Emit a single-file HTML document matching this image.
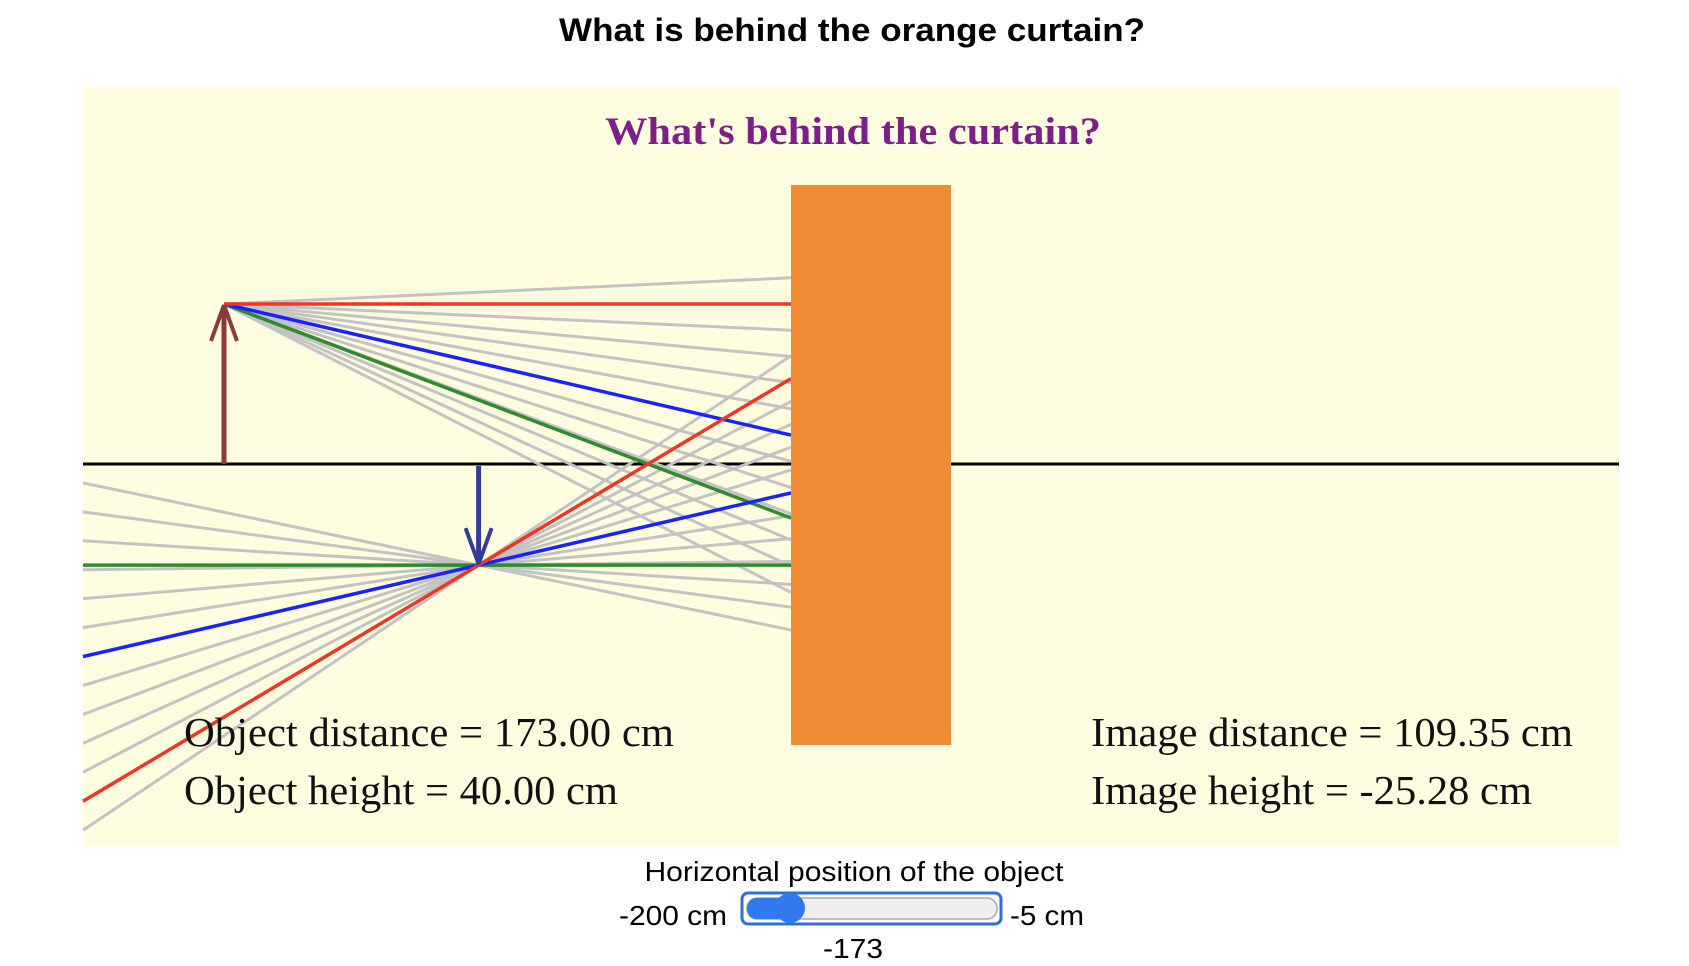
<!DOCTYPE html>
<html><head><meta charset="utf-8"><style>
html,body{margin:0;padding:0;background:#fff;width:1689px;height:966px;overflow:hidden}
svg{display:block}
</style></head><body>
<svg id="c" width="1689" height="966" viewBox="0 0 1689 966">
<text x="852" y="41" text-anchor="middle" font-family="Liberation Sans, sans-serif" font-weight="bold" font-size="32" textLength="586" lengthAdjust="spacingAndGlyphs" fill="#000">What is behind the orange curtain?</text>
<rect x="83" y="86" width="1536" height="760" fill="#fffde0"/>
<g id="rays"></g>
<text x="853" y="144" text-anchor="middle" font-family="Liberation Serif, serif" font-weight="bold" font-size="39" textLength="496" lengthAdjust="spacingAndGlyphs" fill="#7d1f86">What's behind the curtain?</text>
<rect x="791" y="185" width="160" height="560" fill="#f08c35"/>
<text id="od" x="184" y="746" font-family="Liberation Serif, serif" font-size="41" textLength="490" lengthAdjust="spacingAndGlyphs" fill="#111"></text>
<text id="oh" x="184" y="804" font-family="Liberation Serif, serif" font-size="41" textLength="434" lengthAdjust="spacingAndGlyphs" fill="#111"></text>
<text id="id" x="1091" y="746" font-family="Liberation Serif, serif" font-size="41" textLength="482" lengthAdjust="spacingAndGlyphs" fill="#111"></text>
<text id="ih" x="1091" y="804" font-family="Liberation Serif, serif" font-size="41" textLength="441" lengthAdjust="spacingAndGlyphs" fill="#111"></text>
<text x="854" y="881" text-anchor="middle" font-family="Liberation Sans, sans-serif" font-size="28" textLength="419" lengthAdjust="spacingAndGlyphs" fill="#000">Horizontal position of the object</text>
<text x="727" y="925" text-anchor="end" font-family="Liberation Sans, sans-serif" font-size="28" textLength="108" lengthAdjust="spacingAndGlyphs" fill="#000">-200 cm</text>
<text x="1010" y="925" font-family="Liberation Sans, sans-serif" font-size="28" textLength="74" lengthAdjust="spacingAndGlyphs" fill="#000">-5 cm</text>
<g>
<rect x="742" y="893" width="259" height="31" rx="6" fill="#fff" stroke="#2f6fd6" stroke-width="3"/>
<rect x="747" y="898" width="250" height="21" rx="10" fill="#efefef" stroke="#aaa" stroke-width="1.5"/>
<rect x="747" y="898" width="45" height="21" rx="10" fill="#3179f0"/>
<circle id="thumb" cx="790" cy="908" r="15" fill="#3179f0"/>
</g>
<text id="val" x="853" y="958" text-anchor="middle" font-family="Liberation Sans, sans-serif" font-size="28" textLength="60" lengthAdjust="spacingAndGlyphs" fill="#000"></text>
</svg>
<script>
const objectDistance = 173;
const objectHeight = 40;
const imageDistance = 109.35;
const imageHeight = -25.28;
const rayHeights = [48, 40, 32, 24, 16, 8, 0, -8, -16, -24, -32, -40, -48];
const redHeight = 40;
const blueHeight = 0;

const NS = 'http://www.w3.org/2000/svg';
const scale = 4.0, axisY = 464, mirrorX = 916, edgeX = 791, leftX = 83, rightX = 1619;
const X = d => mirrorX - d * scale;
const Y = h => axisY - h * scale;
const g = document.getElementById('rays');
function line(x1, y1, x2, y2, col, w, name) {
  const l = document.createElementNS(NS, 'line');
  l.setAttribute('x1', x1); l.setAttribute('y1', y1);
  l.setAttribute('x2', x2); l.setAttribute('y2', y2);
  l.setAttribute('stroke', col); l.setAttribute('stroke-width', w);
  
  
  g.appendChild(l);
}
const ox = X(objectDistance), oy = Y(objectHeight);
const ix = X(imageDistance), iy = Y(imageHeight);
line(leftX, axisY, rightX, axisY, '#000', 3, 'optical-axis');
function yAt(x1, y1, x2, y2, x) { return y1 + (y2 - y1) * (x - x1) / (x2 - x1); }
function ray(h, col, w, name) {
  const my = Y(h);
  line(ox, oy, edgeX, yAt(ox, oy, mirrorX, my, edgeX), col, w, name + '-incident');
  line(edgeX, yAt(mirrorX, my, ix, iy, edgeX), leftX, yAt(mirrorX, my, ix, iy, leftX), col, w, name + '-reflected');
}
rayHeights.forEach(h => { if (h !== redHeight && h !== blueHeight) ray(h, '#c3c3c3', 3, 'gray-ray'); });
line(ox, oy, edgeX, yAt(ox, oy, mirrorX, iy, edgeX), '#2e8b2e', 3.5, 'green-ray-incident');
line(edgeX, iy, leftX, iy, '#2e8b2e', 3.5, 'green-ray-reflected');
ray(blueHeight, '#1a22ff', 3.5, 'blue-ray');
ray(redHeight, '#ee3626', 3.5, 'red-ray');
line(ox, axisY, ox, oy + 2, '#8b3a3a', 5, 'object-arrow');
line(ox, oy + 1, ox - 13, oy + 37, '#8b3a3a', 4, 'object-arrowhead-left');
line(ox, oy + 1, ox + 13, oy + 37, '#8b3a3a', 4, 'object-arrowhead-right');
line(ix, axisY + 2, ix, iy - 2, '#333d96', 5, 'image-arrow');
line(ix, iy - 1, ix - 13, iy - 37, '#333d96', 4, 'image-arrowhead-left');
line(ix, iy - 1, ix + 13, iy - 37, '#333d96', 4, 'image-arrowhead-right');
document.getElementById('od').textContent = 'Object distance = ' + objectDistance.toFixed(2) + ' cm';
document.getElementById('oh').textContent = 'Object height = ' + objectHeight.toFixed(2) + ' cm';
document.getElementById('id').textContent = 'Image distance = ' + imageDistance.toFixed(2) + ' cm';
document.getElementById('ih').textContent = 'Image height = ' + imageHeight.toFixed(2) + ' cm';
document.getElementById('val').textContent = String(-objectDistance);
</script>
</body></html>
